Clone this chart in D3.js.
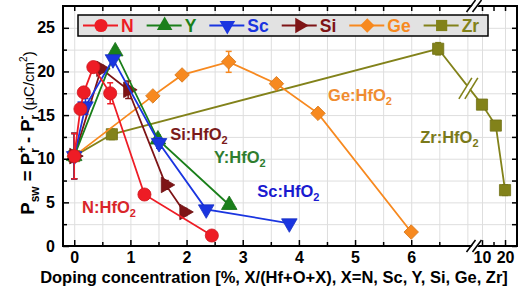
<!DOCTYPE html>
<html>
<head>
<meta charset="utf-8">
<script src="https://cdn.jsdelivr.net/npm/d3@7"></script>
<style>
    body { margin: 0; background: #fff; }
    text { font-family: Arial, "Liberation Sans", sans-serif; }
</style>
</head>
<body>
<div id="chart"></div>
<script>
// ---- data ----
const seriesNames = ["N", "Y", "Sc", "Si", "Ge", "Zr"];

const nConc = [0, 0.11, 0.17, 0.34, 0.64, 1.25, 2.45];
const nPsw = [10.3, 15.7, 17.6, 20.5, 17.5, 5.9, 1.2];
const nErr = [2.6, 0.5, 0.5, 0.3, 1.2, 0.3, 0.2];

const yConc = [0, 0.73, 1.49, 2.76];
const yPsw = [10.3, 22.3, 12.2, 4.7];
const yErr = [2.6, 0.4, 0.5, 0.4];

const scConc = [0, 0.2, 0.69, 1.51, 2.35, 3.83];
const scPsw = [10.3, 16.0, 21.4, 11.8, 4.2, 2.6];
const scErr = [2.6, 0.9, 0.4, 0.6, 0.3, 0.3];

const siConc = [0, 0.48, 0.96, 1.63, 1.96];
const siPsw = [10.3, 20.3, 17.9, 7.0, 3.9];
const siErr = [2.6, 0.4, 1.0, 0.5, 0.4];

const geConc = [0, 1.4, 1.92, 2.75, 3.6, 4.34, 6.0];
const gePsw = [10.3, 17.2, 19.6, 21.1, 18.6, 15.2, 1.6];
const geErr = [2.6, 0.3, 0.3, 1.2, 0.3, 0.3, 0.2];

const zrConc = [0, 0.67, 6.48, 10, 16, 20];
const zrPsw = [10.3, 12.8, 22.6, 16.2, 13.8, 6.4];
const zrErr = [2.6, 0.6, 0.7, 0.4, 0.5, 0.6];

const xTicks = [0, 1, 2, 3, 4, 5, 6, 10, 20];
const xMinorTicks = [0.5, 1.5, 2.5, 3.5, 4.5, 5.5, 6.5, 15];
const xGrid = [0, 0.5, 1, 1.5, 2, 2.5, 3, 3.5, 4, 4.5, 5, 5.5, 6, 6.5, 7, 10, 20];
const yTicks = [0, 5, 10, 15, 20, 25];
const yMinorTicks = [2.5, 7.5, 12.5, 17.5, 22.5];
const yGrid = [2.5, 5, 7.5, 10, 12.5, 15, 17.5, 20, 22.5, 25];

// ---- look ----
const colors = {
    N: "#ee1c25", Y: "#1a7f1a", Sc: "#1a35e0",
    Si: "#7e1416", Ge: "#f7891f", Zr: "#82821a"
};
const labelColors = {
    N: "#d9262b", Y: "#2e7d2e", Sc: "#1a1ad0",
    Si: "#7a1a1a", Ge: "#f08c30", Zr: "#7a7a1a"
};

let series = [
    { name: "N", conc: nConc, psw: nPsw, err: nErr },
    { name: "Y", conc: yConc, psw: yPsw, err: yErr },
    { name: "Sc", conc: scConc, psw: scPsw, err: scErr },
    { name: "Si", conc: siConc, psw: siPsw, err: siErr },
    { name: "Ge", conc: geConc, psw: gePsw, err: geErr },
    { name: "Zr", conc: zrConc, psw: zrPsw, err: zrErr }
];
series.forEach(s => {
    s.points = s.conc.map((c, i) => ({ x: c, y: s.psw[i], e: s.err[i] }));
});

// marker shapes
function markerPath(name) {
    const sym = {
        N: [d3.symbolCircle, 135, 0],
        Y: [d3.symbolTriangle, 105, 0],
        Sc: [d3.symbolTriangle, 105, 180],
        Si: [d3.symbolTriangle, 105, 90],
        Ge: [d3.symbolSquare, 105, 45],
        Zr: [d3.symbolSquare, 125, 0]
    }[name];
    return { d: d3.symbol().type(sym[0]).size(sym[1])(), rot: sym[2] };
}

const W = 520, H = 290;
const plot = { left: 63, right: 517, top: 6, bottom: 246 };

const svg = d3.select("#chart").append("svg")
    .attr("width", W)
    .attr("height", H);

// broken x axis: linear part up to the break, compressed part after
const x = d3.scaleLinear()
    .domain([-0.2, 7.1, 10, 25.2])
    .range([plot.left, 473, 482, plot.right]);
const y = d3.scaleLinear()
    .domain([0, 27.5])
    .range([plot.bottom, plot.top]);

// grid
svg.append("g")
    .attr("transform", "translate(0," + plot.bottom + ")")
    .call(d3.axisBottom(x).tickValues(xGrid).tickSize(-(plot.bottom - plot.top)).tickFormat(""))
    .call(g => g.select(".domain").remove())
    .selectAll("line").attr("stroke", "#dedede").attr("stroke-width", 1);
svg.append("g")
    .attr("transform", "translate(" + plot.left + ",0)")
    .call(d3.axisLeft(y).tickValues(yGrid).tickSize(-(plot.right - plot.left)).tickFormat(""))
    .call(g => g.select(".domain").remove())
    .selectAll("line").attr("stroke", "#dedede").attr("stroke-width", 1);

// data lines, error bars and markers
const line = d3.line().x(d => x(d.x)).y(d => y(d.y));
const drawOrder = ["Zr", "Ge", "Si", "Y", "Sc", "N"];

drawOrder.forEach(name => {
    let s = series.find(t => t.name === name);
    let col = colors[name];
    let g = svg.append("g");

    g.append("path")
        .datum(s.points)
        .attr("fill", "none")
        .attr("stroke", col)
        .attr("stroke-width", 1.8)
        .attr("d", line);

    let eb = g.selectAll(".eb").data(s.points).join("g");
    eb.append("line")
        .attr("x1", d => x(d.x)).attr("x2", d => x(d.x))
        .attr("y1", d => y(d.y - d.e)).attr("y2", d => y(d.y + d.e))
        .attr("stroke", col).attr("stroke-width", 1.5);
    eb.append("line")
        .attr("x1", d => x(d.x) - 3).attr("x2", d => x(d.x) + 3)
        .attr("y1", d => y(d.y + d.e)).attr("y2", d => y(d.y + d.e))
        .attr("stroke", col).attr("stroke-width", 1.5);
    eb.append("line")
        .attr("x1", d => x(d.x) - 3).attr("x2", d => x(d.x) + 3)
        .attr("y1", d => y(d.y - d.e)).attr("y2", d => y(d.y - d.e))
        .attr("stroke", col).attr("stroke-width", 1.5);

    let m = markerPath(name);
    g.selectAll(".mk").data(s.points).join("path")
        .attr("d", m.d)
        .attr("transform", d => "translate(" + x(d.x) + "," + y(d.y) + ") rotate(" + m.rot + ")")
        .attr("fill", col)
        .attr("stroke", d3.color(col).darker(0.4))
        .attr("stroke-width", 0.8);
});

// break mark on the Zr line
{
    let zr = series.find(t => t.name === "Zr").points;
    let a = zr[2], b = zr[3];
    let t = 0.7;
    let bx = x(a.x) + (x(b.x) - x(a.x)) * t;
    let by = y(a.y) + (y(b.y) - y(a.y)) * t;
    let bk = svg.append("g").attr("transform", "translate(" + bx + "," + by + ")");
    bk.append("path")
        .attr("d", "M-10,11 L3,-10 L8,-10 L-5,11 Z")
        .attr("fill", "#fff");
    bk.append("line").attr("x1", -10).attr("y1", 11).attr("x2", 3).attr("y2", -10)
        .attr("stroke", colors.Zr).attr("stroke-width", 1.6);
    bk.append("line").attr("x1", -4).attr("y1", 11).attr("x2", 9).attr("y2", -10)
        .attr("stroke", colors.Zr).attr("stroke-width", 1.6);
}

// axes: ticks point inside, on all four sides
function styleAxis(g) {
    g.select(".domain").remove();
    g.selectAll("line").attr("stroke", "#000").attr("stroke-width", 1.5);
    g.selectAll("text")
        .attr("font-size", 16)
        .attr("font-weight", "bold")
        .attr("fill", "#000");
}

svg.append("g")
    .attr("transform", "translate(0," + plot.bottom + ")")
    .call(d3.axisBottom(x).tickValues(xTicks).tickSize(-6).tickPadding(6))
    .call(styleAxis);
svg.append("g")
    .attr("transform", "translate(0," + plot.bottom + ")")
    .call(d3.axisBottom(x).tickValues(xMinorTicks).tickSize(-4).tickFormat(""))
    .call(styleAxis);
svg.append("g")
    .attr("transform", "translate(0," + plot.top + ")")
    .call(d3.axisTop(x).tickValues(xTicks.concat(xMinorTicks)).tickSize(-5).tickFormat(""))
    .call(styleAxis);
svg.append("g")
    .attr("transform", "translate(" + plot.left + ",0)")
    .call(d3.axisLeft(y).tickValues(yTicks).tickSize(-6).tickPadding(8))
    .call(styleAxis);
svg.append("g")
    .attr("transform", "translate(" + plot.left + ",0)")
    .call(d3.axisLeft(y).tickValues(yMinorTicks).tickSize(-4).tickFormat(""))
    .call(styleAxis);
svg.append("g")
    .attr("transform", "translate(" + plot.right + ",0)")
    .call(d3.axisRight(y).tickValues(yTicks.concat(yMinorTicks)).tickSize(-5).tickFormat(""))
    .call(styleAxis);

// frame
svg.append("rect")
    .attr("x", plot.left).attr("y", plot.top)
    .attr("width", plot.right - plot.left)
    .attr("height", plot.bottom - plot.top)
    .attr("fill", "none")
    .attr("stroke", "#000")
    .attr("stroke-width", 2);

// axis break marks (top and bottom)
[plot.top, plot.bottom].forEach(yy => {
    let bx = (x(7.1) + x(10)) / 2 - 4;
    let g = svg.append("g").attr("transform", "translate(" + bx + "," + yy + ")");
    g.append("path").attr("d", "M-6,6 L3,-6 L9,-6 L0,6 Z").attr("fill", "#fff");
    g.append("line").attr("x1", -7).attr("y1", 6).attr("x2", 2).attr("y2", -6)
        .attr("stroke", "#000").attr("stroke-width", 1.5);
    g.append("line").attr("x1", -1).attr("y1", 6).attr("x2", 8).attr("y2", -6)
        .attr("stroke", "#000").attr("stroke-width", 1.5);
});

// axis titles
svg.append("text")
    .attr("x", (40 + 508) / 2)
    .attr("y", 283)
    .attr("text-anchor", "middle")
    .attr("font-size", 16.5)
    .attr("font-weight", "bold")
    .text("Doping concentration [%, X/(Hf+O+X), X=N, Sc, Y, Si, Ge, Zr]");

{
    let t = svg.append("text")
        .attr("transform", "translate(34,133) rotate(-90)")
        .attr("text-anchor", "middle")
        .attr("font-weight", "bold")
        .attr("font-size", 18.5);
    t.append("tspan").text("P");
    t.append("tspan").attr("font-size", 12).attr("dy", 5).text("sw");
    t.append("tspan").attr("dy", -5).text(" = P");
    t.append("tspan").attr("font-size", 12).attr("dy", -8).text("+");
    t.append("tspan").attr("font-size", 12).attr("dx", -7).attr("dy", 13).text("r");
    t.append("tspan").attr("dy", -5).text(" - P");
    t.append("tspan").attr("font-size", 12).attr("dy", -8).text("-");
    t.append("tspan").attr("font-size", 12).attr("dx", -4).attr("dy", 13).text("r");
    t.append("tspan").attr("font-size", 15).attr("font-weight", "normal").attr("dy", -5).text(" (\u03bcC/cm");
    t.append("tspan").attr("font-size", 10).attr("font-weight", "normal").attr("dy", -7).text("2");
    t.append("tspan").attr("font-size", 15).attr("font-weight", "normal").attr("dy", 7).text(")");
}

// series annotations (anchor in data units)
const labelAnchors = {
    N: [0.14, 3.8], Si: [1.71, 12.2], Y: [2.49, 9.5],
    Sc: [3.26, 5.6], Ge: [4.52, 16.6], Zr: [6.16, 11.8]
};
seriesNames.forEach(name => {
    let p = labelAnchors[name];
    let t = svg.append("text")
        .attr("x", x(p[0]))
        .attr("y", y(p[1]))
        .attr("font-size", 16.5)
        .attr("font-weight", "bold")
        .attr("fill", labelColors[name]);
    t.append("tspan").text(name + ":HfO");
    t.append("tspan").attr("font-size", 11).attr("dy", 4).text("2");
});

// legend
{
    let lg = svg.append("g");
    lg.append("rect")
        .attr("x", 78).attr("y", 15)
        .attr("width", 410).attr("height", 21)
        .attr("fill", "#e2e2e2")
        .attr("stroke", "#000")
        .attr("stroke-width", 1.5);
    let cx = 83;
    const cy = 25.5;
    seriesNames.forEach(name => {
        let col = colors[name];
        lg.append("line")
            .attr("x1", cx).attr("x2", cx + 35)
            .attr("y1", cy).attr("y2", cy)
            .attr("stroke", col).attr("stroke-width", 1.8);
        let m = markerPath(name);
        lg.append("path")
            .attr("d", m.d)
            .attr("transform", "translate(" + (cx + 18) + "," + cy + ") rotate(" + m.rot + ")")
            .attr("fill", col);
        let txt = lg.append("text")
            .attr("x", cx + 38)
            .attr("y", cy + 6.5)
            .attr("font-size", 17.5)
            .attr("font-weight", "bold")
            .attr("fill", col)
            .text(name);
        cx += 38 + txt.node().getComputedTextLength() + 13;
    });
}
</script>
</body>
</html>
